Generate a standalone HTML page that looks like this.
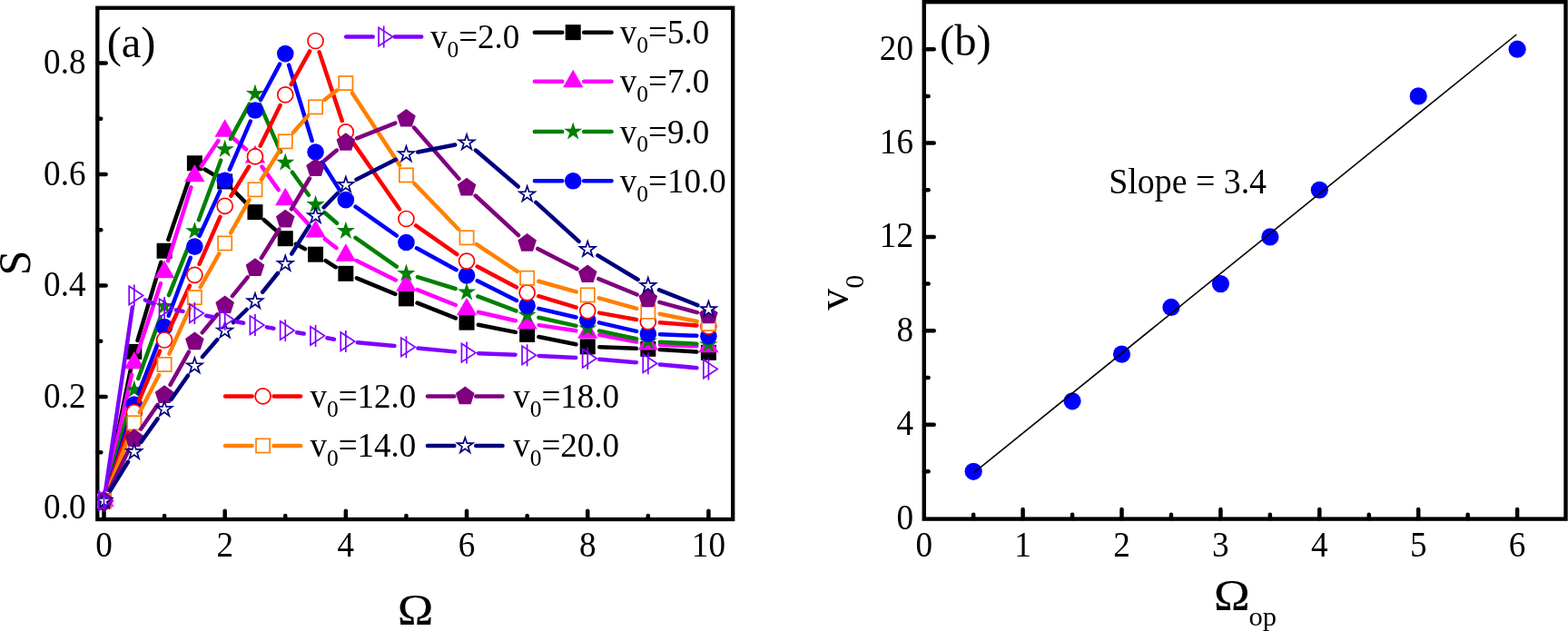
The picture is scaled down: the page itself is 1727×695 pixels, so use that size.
<!DOCTYPE html><html><head><meta charset="utf-8"><style>html,body{margin:0;padding:0;background:#fff;}svg{display:block;}text{font-family:"Liberation Serif","Times New Roman",serif;fill:#000;}</style></head><body>
<svg width="1727" height="695" viewBox="0 0 1727 695">
<rect width="1727" height="695" fill="#fff"/>
<rect x="107.3" y="8.7" width="699.9" height="563.3" fill="none" stroke="#000" stroke-width="4.3"/>
<line x1="114.5" y1="571.7" x2="114.5" y2="562.85" stroke="#000" stroke-width="4.5" stroke-linecap="round"/>
<line x1="181.09" y1="571.7" x2="181.09" y2="568.05" stroke="#000" stroke-width="4.5" stroke-linecap="round"/>
<line x1="247.68" y1="571.7" x2="247.68" y2="562.85" stroke="#000" stroke-width="4.5" stroke-linecap="round"/>
<line x1="314.27" y1="571.7" x2="314.27" y2="568.05" stroke="#000" stroke-width="4.5" stroke-linecap="round"/>
<line x1="380.86" y1="571.7" x2="380.86" y2="562.85" stroke="#000" stroke-width="4.5" stroke-linecap="round"/>
<line x1="447.45" y1="571.7" x2="447.45" y2="568.05" stroke="#000" stroke-width="4.5" stroke-linecap="round"/>
<line x1="514.04" y1="571.7" x2="514.04" y2="562.85" stroke="#000" stroke-width="4.5" stroke-linecap="round"/>
<line x1="580.63" y1="571.7" x2="580.63" y2="568.05" stroke="#000" stroke-width="4.5" stroke-linecap="round"/>
<line x1="647.22" y1="571.7" x2="647.22" y2="562.85" stroke="#000" stroke-width="4.5" stroke-linecap="round"/>
<line x1="713.81" y1="571.7" x2="713.81" y2="568.05" stroke="#000" stroke-width="4.5" stroke-linecap="round"/>
<line x1="780.4" y1="571.7" x2="780.4" y2="562.85" stroke="#000" stroke-width="4.5" stroke-linecap="round"/>
<line x1="107.6" y1="559.5" x2="116.65" y2="559.5" stroke="#000" stroke-width="4.5" stroke-linecap="round"/>
<line x1="107.6" y1="498.25" x2="111.25" y2="498.25" stroke="#000" stroke-width="4.5" stroke-linecap="round"/>
<line x1="107.6" y1="437" x2="116.65" y2="437" stroke="#000" stroke-width="4.5" stroke-linecap="round"/>
<line x1="107.6" y1="375.75" x2="111.25" y2="375.75" stroke="#000" stroke-width="4.5" stroke-linecap="round"/>
<line x1="107.6" y1="314.5" x2="116.65" y2="314.5" stroke="#000" stroke-width="4.5" stroke-linecap="round"/>
<line x1="107.6" y1="253.25" x2="111.25" y2="253.25" stroke="#000" stroke-width="4.5" stroke-linecap="round"/>
<line x1="107.6" y1="192" x2="116.65" y2="192" stroke="#000" stroke-width="4.5" stroke-linecap="round"/>
<line x1="107.6" y1="130.75" x2="111.25" y2="130.75" stroke="#000" stroke-width="4.5" stroke-linecap="round"/>
<line x1="107.6" y1="69.5" x2="116.65" y2="69.5" stroke="#000" stroke-width="4.5" stroke-linecap="round"/>
<defs><clipPath id="ca"><rect x="107.3" y="8.7" width="699.9" height="563.3"/></clipPath></defs><g clip-path="url(#ca)">
<path d="M117.09 538.93L145.2 400.18M151.54 374.89L177.34 288.78M185.35 263.94L210.13 192.09M225.54 186.52L236.52 193.19M256.85 209.24L271.8 224.37M290.8 242.24L304.44 254.16M325.83 268.8L336.01 274.14M358.58 287.19L369.84 294.34M392.92 306.32L435.39 323.9M459.59 333.68L501.9 350.38M526.84 357.71L567.83 365.86M593.42 370.99L634.43 379.29M660.26 382.35L700.77 383.85M726.84 385.1L767.37 387.53" fill="none" stroke="#000000" stroke-width="4.5" stroke-linecap="round"/>
<rect x="106" y="543.22" width="17" height="17" fill="#000000"/>
<rect x="139.3" y="378.89" width="17" height="17" fill="#000000"/>
<rect x="172.59" y="267.78" width="17" height="17" fill="#000000"/>
<rect x="205.88" y="171.25" width="17" height="17" fill="#000000"/>
<rect x="239.18" y="191.46" width="17" height="17" fill="#000000"/>
<rect x="272.48" y="225.15" width="17" height="17" fill="#000000"/>
<rect x="305.77" y="254.24" width="17" height="17" fill="#000000"/>
<rect x="339.06" y="271.7" width="17" height="17" fill="#000000"/>
<rect x="372.36" y="292.83" width="17" height="17" fill="#000000"/>
<rect x="438.95" y="320.39" width="17" height="17" fill="#000000"/>
<rect x="505.54" y="346.67" width="17" height="17" fill="#000000"/>
<rect x="572.13" y="359.9" width="17" height="17" fill="#000000"/>
<rect x="638.72" y="373.38" width="17" height="17" fill="#000000"/>
<rect x="705.31" y="375.83" width="17" height="17" fill="#000000"/>
<rect x="771.9" y="379.81" width="17" height="17" fill="#000000"/>
<path d="M117.29 538.97L145 412.57M151.92 387.44L176.97 312.18M185 287.35L210.47 206.29M221.66 183L240.41 155.06M257.55 152.76L271.1 164.48M288.54 183.65L306.7 209.17M323.23 229.3L338.61 245.6M357.83 263.15L370.6 273.18M392.56 287.03L435.75 308.41M459.57 319.04L501.92 335.99M526.76 343.76L567.91 353.23M593.53 358.11L634.32 364.3M660.03 368.73L701 376.64M726.85 379.66L767.36 381.34" fill="none" stroke="#FF00FF" stroke-width="4.5" stroke-linecap="round"/>
<polygon points="114.5,538.79 125.7,558.19 103.3,558.19" fill="#FF00FF"/>
<polygon points="147.8,386.89 159,406.29 136.6,406.29" fill="#FF00FF"/>
<polygon points="181.09,286.87 192.29,306.27 169.89,306.27" fill="#FF00FF"/>
<polygon points="214.38,180.9 225.58,200.3 203.19,200.3" fill="#FF00FF"/>
<polygon points="247.68,131.29 258.88,150.69 236.48,150.69" fill="#FF00FF"/>
<polygon points="280.98,160.08 292.18,179.48 269.78,179.48" fill="#FF00FF"/>
<polygon points="314.27,206.87 325.47,226.27 303.07,226.27" fill="#FF00FF"/>
<polygon points="347.56,242.15 358.76,261.55 336.37,261.55" fill="#FF00FF"/>
<polygon points="380.86,268.31 392.06,287.71 369.66,287.71" fill="#FF00FF"/>
<polygon points="447.45,301.26 458.65,320.66 436.25,320.66" fill="#FF00FF"/>
<polygon points="514.04,327.9 525.24,347.3 502.84,347.3" fill="#FF00FF"/>
<polygon points="580.63,343.22 591.83,362.62 569.43,362.62" fill="#FF00FF"/>
<polygon points="647.22,353.32 658.42,372.72 636.02,372.72" fill="#FF00FF"/>
<polygon points="713.81,366.19 725.01,385.59 702.61,385.59" fill="#FF00FF"/>
<polygon points="780.4,368.94 791.6,388.34 769.2,388.34" fill="#FF00FF"/>
<path d="M117.92 539.13L144.37 441.81M152.23 416.95L176.65 349.43M185.96 325.06L209.51 266.58M218.91 242.24L243.15 176.68M253.91 152.97L274.74 114.65M286.21 115.14L309.03 167.19M321.9 189.73L339.94 214.79M357.41 233.95L371.02 245.79M391.53 261.86L436.78 293.7M459.91 305.07L501.58 317.99M526.25 326.45L568.42 342.36M593.37 349.78L634.48 358.85M659.98 364.42L701.05 373.3M726.84 376.72L767.37 378.77" fill="none" stroke="#008000" stroke-width="4.5" stroke-linecap="round"/>
<polygon points="114.5,541.12 116.88,548.45 124.58,548.45 118.35,552.97 120.73,560.3 114.5,555.77 108.27,560.3 110.65,552.97 104.42,548.45 112.12,548.45" fill="#008000"/>
<polygon points="147.8,418.62 150.18,425.95 157.88,425.95 151.65,430.47 154.03,437.8 147.8,433.27 141.56,437.8 143.94,430.47 137.71,425.95 145.41,425.95" fill="#008000"/>
<polygon points="181.09,326.56 183.47,333.89 191.17,333.89 184.94,338.41 187.32,345.74 181.09,341.21 174.86,345.74 177.24,338.41 171.01,333.89 178.71,333.89" fill="#008000"/>
<polygon points="214.38,243.88 216.77,251.2 224.47,251.2 218.24,255.73 220.62,263.05 214.38,258.52 208.15,263.05 210.53,255.73 204.3,251.2 212,251.2" fill="#008000"/>
<polygon points="247.68,153.84 250.06,161.16 257.76,161.16 251.53,165.69 253.91,173.01 247.68,168.49 241.45,173.01 243.83,165.69 237.6,161.16 245.3,161.16" fill="#008000"/>
<polygon points="280.98,92.59 283.36,99.91 291.06,99.91 284.83,104.44 287.21,111.76 280.98,107.24 274.74,111.76 277.12,104.44 270.89,99.91 278.59,99.91" fill="#008000"/>
<polygon points="314.27,168.54 316.65,175.86 324.35,175.86 318.12,180.39 320.5,187.71 314.27,183.19 308.04,187.71 310.42,180.39 304.19,175.86 311.89,175.86" fill="#008000"/>
<polygon points="347.56,214.78 349.95,222.11 357.65,222.11 351.42,226.63 353.8,233.96 347.56,229.43 341.33,233.96 343.71,226.63 337.48,222.11 345.18,222.11" fill="#008000"/>
<polygon points="380.86,243.75 383.24,251.08 390.94,251.08 384.71,255.6 387.09,262.93 380.86,258.4 374.63,262.93 377.01,255.6 370.78,251.08 378.48,251.08" fill="#008000"/>
<polygon points="447.45,290.61 449.83,297.93 457.53,297.93 451.3,302.46 453.68,309.78 447.45,305.26 441.22,309.78 443.6,302.46 437.37,297.93 445.07,297.93" fill="#008000"/>
<polygon points="514.04,311.25 516.42,318.57 524.12,318.57 517.89,323.1 520.27,330.43 514.04,325.9 507.81,330.43 510.19,323.1 503.96,318.57 511.66,318.57" fill="#008000"/>
<polygon points="580.63,336.36 583.01,343.69 590.71,343.69 584.48,348.21 586.86,355.54 580.63,351.01 574.4,355.54 576.78,348.21 570.55,343.69 578.25,343.69" fill="#008000"/>
<polygon points="647.22,351.06 649.6,358.39 657.3,358.39 651.07,362.91 653.45,370.24 647.22,365.71 640.99,370.24 643.37,362.91 637.14,358.39 644.84,358.39" fill="#008000"/>
<polygon points="713.81,365.46 716.19,372.78 723.89,372.78 717.66,377.31 720.04,384.63 713.81,380.11 707.58,384.63 709.96,377.31 703.73,372.78 711.43,372.78" fill="#008000"/>
<polygon points="780.4,368.82 782.78,376.15 790.48,376.15 784.25,380.68 786.63,388 780.4,383.47 774.17,388 776.55,380.68 770.32,376.15 778.02,376.15" fill="#008000"/>
<path d="M118.41 539.27L143.89 458.03M152.53 433.41L176.36 372.17M185.69 347.8L209.78 283.84M219.81 259.75L242.26 210.61M252.85 186.76L275.81 133.54M287.11 110.05L308.13 70.6M318.1 71.56L343.73 155.03M354.54 178.53L373.89 209.14M391.53 227.68L436.78 259.52M458.9 273.3L502.59 297.21M525.71 309.32L568.96 331.01M593.34 339.84L634.51 349.49M659.94 355.4L701.09 364.86M726.85 368.27L767.36 369.76" fill="none" stroke="#0000FF" stroke-width="4.5" stroke-linecap="round"/>
<circle cx="114.5" cy="551.72" r="9.3" fill="#0000FF"/>
<circle cx="147.8" cy="445.57" r="9.3" fill="#0000FF"/>
<circle cx="181.09" cy="360.01" r="9.3" fill="#0000FF"/>
<circle cx="214.38" cy="271.62" r="9.3" fill="#0000FF"/>
<circle cx="247.68" cy="198.74" r="9.3" fill="#0000FF"/>
<circle cx="280.98" cy="121.56" r="9.3" fill="#0000FF"/>
<circle cx="314.27" cy="59.09" r="9.3" fill="#0000FF"/>
<circle cx="347.56" cy="167.5" r="9.3" fill="#0000FF"/>
<circle cx="380.86" cy="220.17" r="9.3" fill="#0000FF"/>
<circle cx="447.45" cy="267.03" r="9.3" fill="#0000FF"/>
<circle cx="514.04" cy="303.48" r="9.3" fill="#0000FF"/>
<circle cx="580.63" cy="336.86" r="9.3" fill="#0000FF"/>
<circle cx="647.22" cy="352.48" r="9.3" fill="#0000FF"/>
<circle cx="713.81" cy="367.79" r="9.3" fill="#0000FF"/>
<circle cx="780.4" cy="370.24" r="9.3" fill="#0000FF"/>
<path d="M118.71 539.37L143.58 466.5M152.83 442.11L176.06 386.56M186.59 362.69L208.89 314.7M219.62 290.91L242.44 238.86M254.48 215.78L274.17 183.54M286.71 160.68L308.53 116.13M320.65 93.03L341.19 56.38M351.67 57.39L376.75 133.06M388.32 156.16L439.99 230.29M458.15 248.48L503.34 280.07M525.6 293.61L569.07 316.4M593.14 326.19L634.71 338.58M660.06 344.62L700.97 352M726.82 355.34L767.39 358.55" fill="none" stroke="#FF0000" stroke-width="4.5" stroke-linecap="round"/>
<circle cx="114.5" cy="551.72" r="8.5" fill="#fff" stroke="#FF0000" stroke-width="1.7"/>
<circle cx="147.8" cy="454.15" r="8.5" fill="#fff" stroke="#FF0000" stroke-width="1.7"/>
<circle cx="181.09" cy="374.52" r="8.5" fill="#fff" stroke="#FF0000" stroke-width="1.7"/>
<circle cx="214.38" cy="302.86" r="8.5" fill="#fff" stroke="#FF0000" stroke-width="1.7"/>
<circle cx="247.68" cy="226.91" r="8.5" fill="#fff" stroke="#FF0000" stroke-width="1.7"/>
<circle cx="280.98" cy="172.4" r="8.5" fill="#fff" stroke="#FF0000" stroke-width="1.7"/>
<circle cx="314.27" cy="104.41" r="8.5" fill="#fff" stroke="#FF0000" stroke-width="1.7"/>
<circle cx="347.56" cy="45" r="8.5" fill="#fff" stroke="#FF0000" stroke-width="1.7"/>
<circle cx="380.86" cy="145.45" r="8.5" fill="#fff" stroke="#FF0000" stroke-width="1.7"/>
<circle cx="447.45" cy="241" r="8.5" fill="#fff" stroke="#FF0000" stroke-width="1.7"/>
<circle cx="514.04" cy="287.55" r="8.5" fill="#fff" stroke="#FF0000" stroke-width="1.7"/>
<circle cx="580.63" cy="322.46" r="8.5" fill="#fff" stroke="#FF0000" stroke-width="1.7"/>
<circle cx="647.22" cy="342.31" r="8.5" fill="#fff" stroke="#FF0000" stroke-width="1.7"/>
<circle cx="713.81" cy="354.31" r="8.5" fill="#fff" stroke="#FF0000" stroke-width="1.7"/>
<circle cx="780.4" cy="359.58" r="8.5" fill="#fff" stroke="#FF0000" stroke-width="1.7"/>
<path d="M119.21 539.55L143.08 477.96M153.79 454.2L175.09 413.06M186.46 389.58L209.02 339.56M220.74 316.27L241.33 279.35M254.08 256.58L274.57 220.21M287.92 197.79L307.33 166.91M322.87 146.05L338.96 127.7M357.8 109.79L370.63 99.65M388.02 102.46L440.29 182.01M456.52 202.3L504.97 252.44M524.9 269.07L569.77 298.99M593.19 309.76L634.66 321.39M659.8 328.38L701.23 339.82M726.61 345.82L767.6 353.92" fill="none" stroke="#FF8000" stroke-width="4.5" stroke-linecap="round"/>
<rect x="106.9" y="544.12" width="15.2" height="15.2" fill="#fff" stroke="#FF8000" stroke-width="1.7"/>
<rect x="140.2" y="458.19" width="15.2" height="15.2" fill="#fff" stroke="#FF8000" stroke-width="1.7"/>
<rect x="173.49" y="393.88" width="15.2" height="15.2" fill="#fff" stroke="#FF8000" stroke-width="1.7"/>
<rect x="206.78" y="320.07" width="15.2" height="15.2" fill="#fff" stroke="#FF8000" stroke-width="1.7"/>
<rect x="240.08" y="260.35" width="15.2" height="15.2" fill="#fff" stroke="#FF8000" stroke-width="1.7"/>
<rect x="273.38" y="201.24" width="15.2" height="15.2" fill="#fff" stroke="#FF8000" stroke-width="1.7"/>
<rect x="306.67" y="148.26" width="15.2" height="15.2" fill="#fff" stroke="#FF8000" stroke-width="1.7"/>
<rect x="339.96" y="110.29" width="15.2" height="15.2" fill="#fff" stroke="#FF8000" stroke-width="1.7"/>
<rect x="373.26" y="83.95" width="15.2" height="15.2" fill="#fff" stroke="#FF8000" stroke-width="1.7"/>
<rect x="439.85" y="185.32" width="15.2" height="15.2" fill="#fff" stroke="#FF8000" stroke-width="1.7"/>
<rect x="506.44" y="254.22" width="15.2" height="15.2" fill="#fff" stroke="#FF8000" stroke-width="1.7"/>
<rect x="573.03" y="298.63" width="15.2" height="15.2" fill="#fff" stroke="#FF8000" stroke-width="1.7"/>
<rect x="639.62" y="317.31" width="15.2" height="15.2" fill="#fff" stroke="#FF8000" stroke-width="1.7"/>
<rect x="706.21" y="335.69" width="15.2" height="15.2" fill="#fff" stroke="#FF8000" stroke-width="1.7"/>
<rect x="772.8" y="348.86" width="15.2" height="15.2" fill="#fff" stroke="#FF8000" stroke-width="1.7"/>
<path d="M120.2 539.98L142.09 494.92M155.23 472.46L173.65 445.89M187.52 423.81L207.95 387.72M222.72 366.32L239.35 346.29M255.9 326.11L272.75 305.34M287.86 284.12L307.38 252.7M320.91 230.38L340.93 196.5M357.53 176.83L370.9 165.52M393 152.29L435.31 135.55M456.05 140.56L505.44 196.89M523.64 215.53L571.03 259.12M592.23 273.93L635.62 296.27M659.31 307.17L701.72 324.46M726.4 332.82L767.81 344.14" fill="none" stroke="#800080" stroke-width="4.5" stroke-linecap="round"/>
<polygon points="114.5,540.87 124.82,548.37 120.88,560.5 108.12,560.5 104.18,548.37" fill="#800080"/>
<polygon points="147.8,472.33 158.11,479.83 154.17,491.96 141.42,491.96 137.48,479.83" fill="#800080"/>
<polygon points="181.09,424.31 191.41,431.81 187.47,443.94 174.71,443.94 170.77,431.81" fill="#800080"/>
<polygon points="214.38,365.51 224.7,373.01 220.76,385.14 208.01,385.14 204.07,373.01" fill="#800080"/>
<polygon points="247.68,325.39 258,332.89 254.06,345.02 241.3,345.02 237.36,332.89" fill="#800080"/>
<polygon points="280.98,284.36 291.29,291.85 287.35,303.98 274.6,303.98 270.66,291.85" fill="#800080"/>
<polygon points="314.27,230.76 324.59,238.26 320.65,250.39 307.89,250.39 303.95,238.26" fill="#800080"/>
<polygon points="347.56,174.41 357.88,181.91 353.94,194.04 341.19,194.04 337.25,181.91" fill="#800080"/>
<polygon points="380.86,146.24 391.18,153.73 387.24,165.87 374.48,165.87 370.54,153.73" fill="#800080"/>
<polygon points="447.45,119.9 457.77,127.4 453.83,139.53 441.07,139.53 437.13,127.4" fill="#800080"/>
<polygon points="514.04,195.85 524.36,203.35 520.42,215.48 507.66,215.48 503.72,203.35" fill="#800080"/>
<polygon points="580.63,257.1 590.95,264.6 587.01,276.73 574.25,276.73 570.31,264.6" fill="#800080"/>
<polygon points="647.22,291.4 657.54,298.9 653.6,311.03 640.84,311.03 636.9,298.9" fill="#800080"/>
<polygon points="713.81,318.53 724.13,326.03 720.19,338.16 707.43,338.16 703.49,326.03" fill="#800080"/>
<polygon points="780.4,336.73 790.72,344.22 786.78,356.35 774.02,356.35 770.08,344.22" fill="#800080"/>
<path d="M121.34 540.61L140.95 508.75M155.35 486.99L173.54 461.36M188.56 440.02L206.92 413.71M222.9 393.12L239.16 374.24M257.02 355.25L271.63 341.01M289.17 321.74L306.08 300.77M321.23 279.57L340.6 248.85M356.67 228.47L371.75 212.99M392.5 197.75L435.81 175.84M460.26 167.48L501.23 159.56M523.96 165.57L570.71 205.57M590.28 222.84L637.57 265.9M658.41 281.41L702.62 307.96M725.96 319.45L768.25 336.07" fill="none" stroke="#000080" stroke-width="4.5" stroke-linecap="round"/>
<polygon points="114.5,542.72 116.52,548.94 123.06,548.94 117.77,552.78 119.79,559 114.5,555.16 109.21,559 111.23,552.78 105.94,548.94 112.48,548.94" fill="#fff" stroke="#000080" stroke-width="1.7" stroke-linejoin="miter"/>
<polygon points="147.8,488.64 149.82,494.86 156.35,494.86 151.06,498.7 153.09,504.92 147.8,501.08 142.5,504.92 144.53,498.7 139.24,494.86 145.77,494.86" fill="#fff" stroke="#000080" stroke-width="1.7" stroke-linejoin="miter"/>
<polygon points="181.09,441.72 183.11,447.94 189.65,447.94 184.36,451.78 186.38,458 181.09,454.16 175.8,458 177.82,451.78 172.53,447.94 179.07,447.94" fill="#fff" stroke="#000080" stroke-width="1.7" stroke-linejoin="miter"/>
<polygon points="214.38,394.01 216.41,400.22 222.94,400.23 217.65,404.07 219.68,410.29 214.38,406.44 209.09,410.29 211.12,404.07 205.83,400.23 212.36,400.22" fill="#fff" stroke="#000080" stroke-width="1.7" stroke-linejoin="miter"/>
<polygon points="247.68,355.36 249.7,361.58 256.24,361.58 250.95,365.42 252.97,371.64 247.68,367.8 242.39,371.64 244.41,365.42 239.12,361.58 245.66,361.58" fill="#fff" stroke="#000080" stroke-width="1.7" stroke-linejoin="miter"/>
<polygon points="280.98,322.89 283,329.11 289.53,329.11 284.24,332.96 286.27,339.18 280.98,335.33 275.68,339.18 277.71,332.96 272.42,329.11 278.95,329.11" fill="#fff" stroke="#000080" stroke-width="1.7" stroke-linejoin="miter"/>
<polygon points="314.27,281.61 316.29,287.83 322.83,287.83 317.54,291.67 319.56,297.89 314.27,294.05 308.98,297.89 311,291.67 305.71,287.83 312.25,287.83" fill="#fff" stroke="#000080" stroke-width="1.7" stroke-linejoin="miter"/>
<polygon points="347.56,228.81 349.59,235.03 356.12,235.03 350.83,238.88 352.86,245.1 347.56,241.25 342.27,245.1 344.3,238.88 339.01,235.03 345.54,235.03" fill="#fff" stroke="#000080" stroke-width="1.7" stroke-linejoin="miter"/>
<polygon points="380.86,194.64 382.88,200.86 389.42,200.86 384.13,204.7 386.15,210.92 380.86,207.08 375.57,210.92 377.59,204.7 372.3,200.86 378.84,200.86" fill="#fff" stroke="#000080" stroke-width="1.7" stroke-linejoin="miter"/>
<polygon points="447.45,160.95 449.47,167.17 456.01,167.17 450.72,171.01 452.74,177.23 447.45,173.39 442.16,177.23 444.18,171.01 438.89,167.17 445.43,167.17" fill="#fff" stroke="#000080" stroke-width="1.7" stroke-linejoin="miter"/>
<polygon points="514.04,148.09 516.06,154.31 522.6,154.31 517.31,158.15 519.33,164.37 514.04,160.53 508.75,164.37 510.77,158.15 505.48,154.31 512.02,154.31" fill="#fff" stroke="#000080" stroke-width="1.7" stroke-linejoin="miter"/>
<polygon points="580.63,205.05 582.65,211.27 589.19,211.27 583.9,215.11 585.92,221.33 580.63,217.49 575.34,221.33 577.36,215.11 572.07,211.27 578.61,211.27" fill="#fff" stroke="#000080" stroke-width="1.7" stroke-linejoin="miter"/>
<polygon points="647.22,265.69 649.24,271.91 655.78,271.91 650.49,275.75 652.51,281.97 647.22,278.13 641.93,281.97 643.95,275.75 638.66,271.91 645.2,271.91" fill="#fff" stroke="#000080" stroke-width="1.7" stroke-linejoin="miter"/>
<polygon points="713.81,305.68 715.83,311.9 722.37,311.9 717.08,315.75 719.1,321.96 713.81,318.12 708.52,321.96 710.54,315.75 705.25,311.9 711.79,311.9" fill="#fff" stroke="#000080" stroke-width="1.7" stroke-linejoin="miter"/>
<polygon points="780.4,331.84 782.42,338.06 788.96,338.06 783.67,341.9 785.69,348.12 780.4,344.28 775.11,348.12 777.13,341.9 771.84,338.06 778.38,338.06" fill="#fff" stroke="#000080" stroke-width="1.7" stroke-linejoin="miter"/>
<path d="M116.4 538.81L145.89 338.44M159.85 330.52L169.03 334.32M193.95 341.55L201.53 342.88M227.18 347.71L234.89 349.27M260.51 354.27L268.15 355.7M293.83 360.36L301.41 361.68M327.12 366.22L334.72 367.58M360.39 372.28L368.03 373.71M393.85 377.32L434.46 381.1M460.44 383.53L501.05 387.38M527.08 389.14L567.59 390.78M593.66 391.98L634.19 394.07M660.23 395.81L700.8 399.17M726.81 401.45L767.4 405.18" fill="none" stroke="#8000FF" stroke-width="4.5" stroke-linecap="round"/>
<polygon points="108.9,541.52 124.3,551.72 108.9,561.92" fill="none" stroke="#8000FF" stroke-width="1.7"/><line x1="114.5" y1="539.72" x2="114.5" y2="563.72" stroke="#8000FF" stroke-width="1.7"/>
<polygon points="142.2,315.32 157.6,325.52 142.2,335.72" fill="none" stroke="#8000FF" stroke-width="1.7"/><line x1="147.8" y1="313.52" x2="147.8" y2="337.52" stroke="#8000FF" stroke-width="1.7"/>
<polygon points="175.49,329.11 190.89,339.31 175.49,349.51" fill="none" stroke="#8000FF" stroke-width="1.7"/><line x1="181.09" y1="327.31" x2="181.09" y2="351.31" stroke="#8000FF" stroke-width="1.7"/>
<polygon points="208.78,334.93 224.19,345.12 208.78,355.32" fill="none" stroke="#8000FF" stroke-width="1.7"/><line x1="214.38" y1="333.12" x2="214.38" y2="357.12" stroke="#8000FF" stroke-width="1.7"/>
<polygon points="242.08,341.66 257.48,351.86 242.08,362.06" fill="none" stroke="#8000FF" stroke-width="1.7"/><line x1="247.68" y1="339.86" x2="247.68" y2="363.86" stroke="#8000FF" stroke-width="1.7"/>
<polygon points="275.38,347.91 290.78,358.11 275.38,368.31" fill="none" stroke="#8000FF" stroke-width="1.7"/><line x1="280.98" y1="346.11" x2="280.98" y2="370.11" stroke="#8000FF" stroke-width="1.7"/>
<polygon points="308.67,353.73 324.07,363.93 308.67,374.13" fill="none" stroke="#8000FF" stroke-width="1.7"/><line x1="314.27" y1="351.93" x2="314.27" y2="375.93" stroke="#8000FF" stroke-width="1.7"/>
<polygon points="341.96,359.67 357.37,369.87 341.96,380.07" fill="none" stroke="#8000FF" stroke-width="1.7"/><line x1="347.56" y1="357.87" x2="347.56" y2="381.87" stroke="#8000FF" stroke-width="1.7"/>
<polygon points="375.26,365.92 390.66,376.12 375.26,386.32" fill="none" stroke="#8000FF" stroke-width="1.7"/><line x1="380.86" y1="364.12" x2="380.86" y2="388.12" stroke="#8000FF" stroke-width="1.7"/>
<polygon points="441.85,372.1 457.25,382.3 441.85,392.5" fill="none" stroke="#8000FF" stroke-width="1.7"/><line x1="447.45" y1="370.3" x2="447.45" y2="394.3" stroke="#8000FF" stroke-width="1.7"/>
<polygon points="508.44,378.41 523.84,388.61 508.44,398.81" fill="none" stroke="#8000FF" stroke-width="1.7"/><line x1="514.04" y1="376.61" x2="514.04" y2="400.61" stroke="#8000FF" stroke-width="1.7"/>
<polygon points="575.03,381.11 590.43,391.31 575.03,401.51" fill="none" stroke="#8000FF" stroke-width="1.7"/><line x1="580.63" y1="379.31" x2="580.63" y2="403.31" stroke="#8000FF" stroke-width="1.7"/>
<polygon points="641.62,384.54 657.02,394.74 641.62,404.94" fill="none" stroke="#8000FF" stroke-width="1.7"/><line x1="647.22" y1="382.74" x2="647.22" y2="406.74" stroke="#8000FF" stroke-width="1.7"/>
<polygon points="708.21,390.05 723.61,400.25 708.21,410.45" fill="none" stroke="#8000FF" stroke-width="1.7"/><line x1="713.81" y1="388.25" x2="713.81" y2="412.25" stroke="#8000FF" stroke-width="1.7"/>
<polygon points="774.8,396.18 790.2,406.38 774.8,416.57" fill="none" stroke="#8000FF" stroke-width="1.7"/><line x1="780.4" y1="394.38" x2="780.4" y2="418.38" stroke="#8000FF" stroke-width="1.7"/>
</g>
<text transform="translate(114.5,612.9) scale(0.965,1.04)" font-size="38.5" text-anchor="middle">0</text>
<text transform="translate(247.68,612.9) scale(0.965,1.04)" font-size="38.5" text-anchor="middle">2</text>
<text transform="translate(380.86,612.9) scale(0.965,1.04)" font-size="38.5" text-anchor="middle">4</text>
<text transform="translate(514.04,612.9) scale(0.965,1.04)" font-size="38.5" text-anchor="middle">6</text>
<text transform="translate(647.22,612.9) scale(0.965,1.04)" font-size="38.5" text-anchor="middle">8</text>
<text transform="translate(780.4,612.9) scale(0.965,1.04)" font-size="38.5" text-anchor="middle">10</text>
<text transform="translate(94.5,571.1) scale(0.965,1.04)" font-size="38.5" text-anchor="end">0.0</text>
<text transform="translate(94.5,448.6) scale(0.965,1.04)" font-size="38.5" text-anchor="end">0.2</text>
<text transform="translate(94.5,326.1) scale(0.965,1.04)" font-size="38.5" text-anchor="end">0.4</text>
<text transform="translate(94.5,203.6) scale(0.965,1.04)" font-size="38.5" text-anchor="end">0.6</text>
<text transform="translate(94.5,81.1) scale(0.965,1.04)" font-size="38.5" text-anchor="end">0.8</text>
<text transform="translate(32.6,289.5) rotate(-90)" font-size="50" text-anchor="middle">S</text>
<text transform="translate(457.5,688) scale(1.1,1)" font-size="48" text-anchor="middle" stroke="#000" stroke-width="0.2">Ω</text>
<text x="117.7" y="63.2" font-size="48.5">(a)</text>
<path d="M381.15 40.55H410.75M434.65 40.55H464.25" stroke="#8000FF" stroke-width="4.5" stroke-linecap="round"/>
<polygon points="417.1,30.35 432.5,40.55 417.1,50.75" fill="none" stroke="#8000FF" stroke-width="1.7"/><line x1="422.7" y1="28.55" x2="422.7" y2="52.55" stroke="#8000FF" stroke-width="1.7"/>
<text x="474" y="53.05" font-size="37">v<tspan font-size="25.5" dy="9.7">0</tspan><tspan dy="-9.7">=2.0</tspan></text>
<path d="M588.85 35.65H619.25M643.15 35.65H673.55" stroke="#000000" stroke-width="4.5" stroke-linecap="round"/>
<rect x="622.7" y="27.15" width="17" height="17" fill="#000000"/>
<text x="682.8" y="48.15" font-size="37">v<tspan font-size="25.5" dy="9.7">0</tspan><tspan dy="-9.7">=5.0</tspan></text>
<path d="M588.85 89.8H619.25M643.15 89.8H673.55" stroke="#FF00FF" stroke-width="4.5" stroke-linecap="round"/>
<polygon points="631.2,76.87 642.4,96.27 620,96.27" fill="#FF00FF"/>
<text x="682.8" y="102.3" font-size="37">v<tspan font-size="25.5" dy="9.7">0</tspan><tspan dy="-9.7">=7.0</tspan></text>
<path d="M588.85 145H619.25M643.15 145H673.55" stroke="#008000" stroke-width="4.5" stroke-linecap="round"/>
<polygon points="631.2,134.4 633.58,141.72 641.28,141.72 635.05,146.25 637.43,153.58 631.2,149.05 624.97,153.58 627.35,146.25 621.12,141.72 628.82,141.72" fill="#008000"/>
<text x="682.8" y="157.5" font-size="37">v<tspan font-size="25.5" dy="9.7">0</tspan><tspan dy="-9.7">=9.0</tspan></text>
<path d="M588.85 199.3H619.25M643.15 199.3H673.55" stroke="#0000FF" stroke-width="4.5" stroke-linecap="round"/>
<circle cx="631.2" cy="199.3" r="9.3" fill="#0000FF"/>
<text x="682.8" y="211.8" font-size="37">v<tspan font-size="25.5" dy="9.7">0</tspan><tspan dy="-9.7">=10.0</tspan></text>
<path d="M248.05 436.4H277.65M301.55 436.4H331.15" stroke="#FF0000" stroke-width="4.5" stroke-linecap="round"/>
<circle cx="289.6" cy="436.4" r="8.5" fill="#fff" stroke="#FF0000" stroke-width="1.7"/>
<text x="341.5" y="448.9" font-size="37">v<tspan font-size="25.5" dy="9.7">0</tspan><tspan dy="-9.7">=12.0</tspan></text>
<path d="M248.05 490.9H277.65M301.55 490.9H331.15" stroke="#FF8000" stroke-width="4.5" stroke-linecap="round"/>
<rect x="282" y="483.3" width="15.2" height="15.2" fill="#fff" stroke="#FF8000" stroke-width="1.7"/>
<text x="341.5" y="503.4" font-size="37">v<tspan font-size="25.5" dy="9.7">0</tspan><tspan dy="-9.7">=14.0</tspan></text>
<path d="M470.95 436.4H500.3M524.2 436.4H553.55" stroke="#800080" stroke-width="4.5" stroke-linecap="round"/>
<polygon points="512.25,425.55 522.57,433.05 518.63,445.18 505.87,445.18 501.93,433.05" fill="#800080"/>
<text x="565.2" y="448.9" font-size="37">v<tspan font-size="25.5" dy="9.7">0</tspan><tspan dy="-9.7">=18.0</tspan></text>
<path d="M470.95 490.9H500.3M524.2 490.9H553.55" stroke="#000080" stroke-width="4.5" stroke-linecap="round"/>
<polygon points="512.25,481.9 514.27,488.12 520.81,488.12 515.52,491.96 517.54,498.18 512.25,494.34 506.96,498.18 508.98,491.96 503.69,488.12 510.23,488.12" fill="#fff" stroke="#000080" stroke-width="1.7" stroke-linejoin="miter"/>
<text x="565.2" y="503.4" font-size="37">v<tspan font-size="25.5" dy="9.7">0</tspan><tspan dy="-9.7">=20.0</tspan></text>
<circle cx="1072.15" cy="519.32" r="9.6" fill="#0000FF"/>
<circle cx="1181.05" cy="441.8" r="9.6" fill="#0000FF"/>
<circle cx="1235.5" cy="390.12" r="9.6" fill="#0000FF"/>
<circle cx="1289.95" cy="338.44" r="9.6" fill="#0000FF"/>
<circle cx="1344.4" cy="312.6" r="9.6" fill="#0000FF"/>
<circle cx="1398.85" cy="260.92" r="9.6" fill="#0000FF"/>
<circle cx="1453.3" cy="209.24" r="9.6" fill="#0000FF"/>
<circle cx="1562.2" cy="105.88" r="9.6" fill="#0000FF"/>
<circle cx="1671.1" cy="54.2" r="9.6" fill="#0000FF"/>
<line x1="1072.2" y1="521" x2="1670.3" y2="38" stroke="#000" stroke-width="1.6"/>
<rect x="1017.75" y="2.15" width="706.75" height="569.45" fill="none" stroke="#000" stroke-width="4.4"/>
<line x1="1072.15" y1="571.3" x2="1072.15" y2="566.85" stroke="#000" stroke-width="4.5" stroke-linecap="round"/>
<line x1="1126.6" y1="571.3" x2="1126.6" y2="561.05" stroke="#000" stroke-width="4.5" stroke-linecap="round"/>
<line x1="1181.05" y1="571.3" x2="1181.05" y2="566.85" stroke="#000" stroke-width="4.5" stroke-linecap="round"/>
<line x1="1235.5" y1="571.3" x2="1235.5" y2="561.05" stroke="#000" stroke-width="4.5" stroke-linecap="round"/>
<line x1="1289.95" y1="571.3" x2="1289.95" y2="566.85" stroke="#000" stroke-width="4.5" stroke-linecap="round"/>
<line x1="1344.4" y1="571.3" x2="1344.4" y2="561.05" stroke="#000" stroke-width="4.5" stroke-linecap="round"/>
<line x1="1398.85" y1="571.3" x2="1398.85" y2="566.85" stroke="#000" stroke-width="4.5" stroke-linecap="round"/>
<line x1="1453.3" y1="571.3" x2="1453.3" y2="561.05" stroke="#000" stroke-width="4.5" stroke-linecap="round"/>
<line x1="1507.75" y1="571.3" x2="1507.75" y2="566.85" stroke="#000" stroke-width="4.5" stroke-linecap="round"/>
<line x1="1562.2" y1="571.3" x2="1562.2" y2="561.05" stroke="#000" stroke-width="4.5" stroke-linecap="round"/>
<line x1="1616.65" y1="571.3" x2="1616.65" y2="566.85" stroke="#000" stroke-width="4.5" stroke-linecap="round"/>
<line x1="1671.1" y1="571.3" x2="1671.1" y2="561.05" stroke="#000" stroke-width="4.5" stroke-linecap="round"/>
<line x1="1018.05" y1="519.32" x2="1022.6" y2="519.32" stroke="#000" stroke-width="4.5" stroke-linecap="round"/>
<line x1="1018.05" y1="467.64" x2="1028.7" y2="467.64" stroke="#000" stroke-width="4.5" stroke-linecap="round"/>
<line x1="1018.05" y1="415.96" x2="1022.6" y2="415.96" stroke="#000" stroke-width="4.5" stroke-linecap="round"/>
<line x1="1018.05" y1="364.28" x2="1028.7" y2="364.28" stroke="#000" stroke-width="4.5" stroke-linecap="round"/>
<line x1="1018.05" y1="312.6" x2="1022.6" y2="312.6" stroke="#000" stroke-width="4.5" stroke-linecap="round"/>
<line x1="1018.05" y1="260.92" x2="1028.7" y2="260.92" stroke="#000" stroke-width="4.5" stroke-linecap="round"/>
<line x1="1018.05" y1="209.24" x2="1022.6" y2="209.24" stroke="#000" stroke-width="4.5" stroke-linecap="round"/>
<line x1="1018.05" y1="157.56" x2="1028.7" y2="157.56" stroke="#000" stroke-width="4.5" stroke-linecap="round"/>
<line x1="1018.05" y1="105.88" x2="1022.6" y2="105.88" stroke="#000" stroke-width="4.5" stroke-linecap="round"/>
<line x1="1018.05" y1="54.2" x2="1028.7" y2="54.2" stroke="#000" stroke-width="4.5" stroke-linecap="round"/>
<text transform="translate(1017.7,612.5) scale(0.965,1.04)" font-size="38.5" text-anchor="middle">0</text>
<text transform="translate(1126.6,612.5) scale(0.965,1.04)" font-size="38.5" text-anchor="middle">1</text>
<text transform="translate(1235.5,612.5) scale(0.965,1.04)" font-size="38.5" text-anchor="middle">2</text>
<text transform="translate(1344.4,612.5) scale(0.965,1.04)" font-size="38.5" text-anchor="middle">3</text>
<text transform="translate(1453.3,612.5) scale(0.965,1.04)" font-size="38.5" text-anchor="middle">4</text>
<text transform="translate(1562.2,612.5) scale(0.965,1.04)" font-size="38.5" text-anchor="middle">5</text>
<text transform="translate(1671.1,612.5) scale(0.965,1.04)" font-size="38.5" text-anchor="middle">6</text>
<text transform="translate(1006,582.5) scale(0.965,1.04)" font-size="38.5" text-anchor="end">0</text>
<text transform="translate(1006,479.14) scale(0.965,1.04)" font-size="38.5" text-anchor="end">4</text>
<text transform="translate(1006,375.78) scale(0.965,1.04)" font-size="38.5" text-anchor="end">8</text>
<text transform="translate(1006,272.42) scale(0.965,1.04)" font-size="38.5" text-anchor="end">12</text>
<text transform="translate(1006,169.06) scale(0.965,1.04)" font-size="38.5" text-anchor="end">16</text>
<text transform="translate(1006,65.7) scale(0.965,1.04)" font-size="38.5" text-anchor="end">20</text>
<text transform="translate(933.9,322.3) rotate(-90)" font-size="48" text-anchor="middle">v<tspan font-size="30" dy="16.6">0</tspan></text>
<text transform="translate(1356.9,672) scale(1.1,1)" font-size="48.5" text-anchor="middle" stroke="#000" stroke-width="0.2">Ω</text>
<text transform="translate(1375.5,688.7) scale(1.07,1)" font-size="28.5">op</text>
<text x="1035" y="61.4" font-size="48.5">(b)</text>
<text transform="translate(1221.3,212.8) scale(0.983,1.05)" font-size="38.5">Slope = 3.4</text>
</svg></body></html>
